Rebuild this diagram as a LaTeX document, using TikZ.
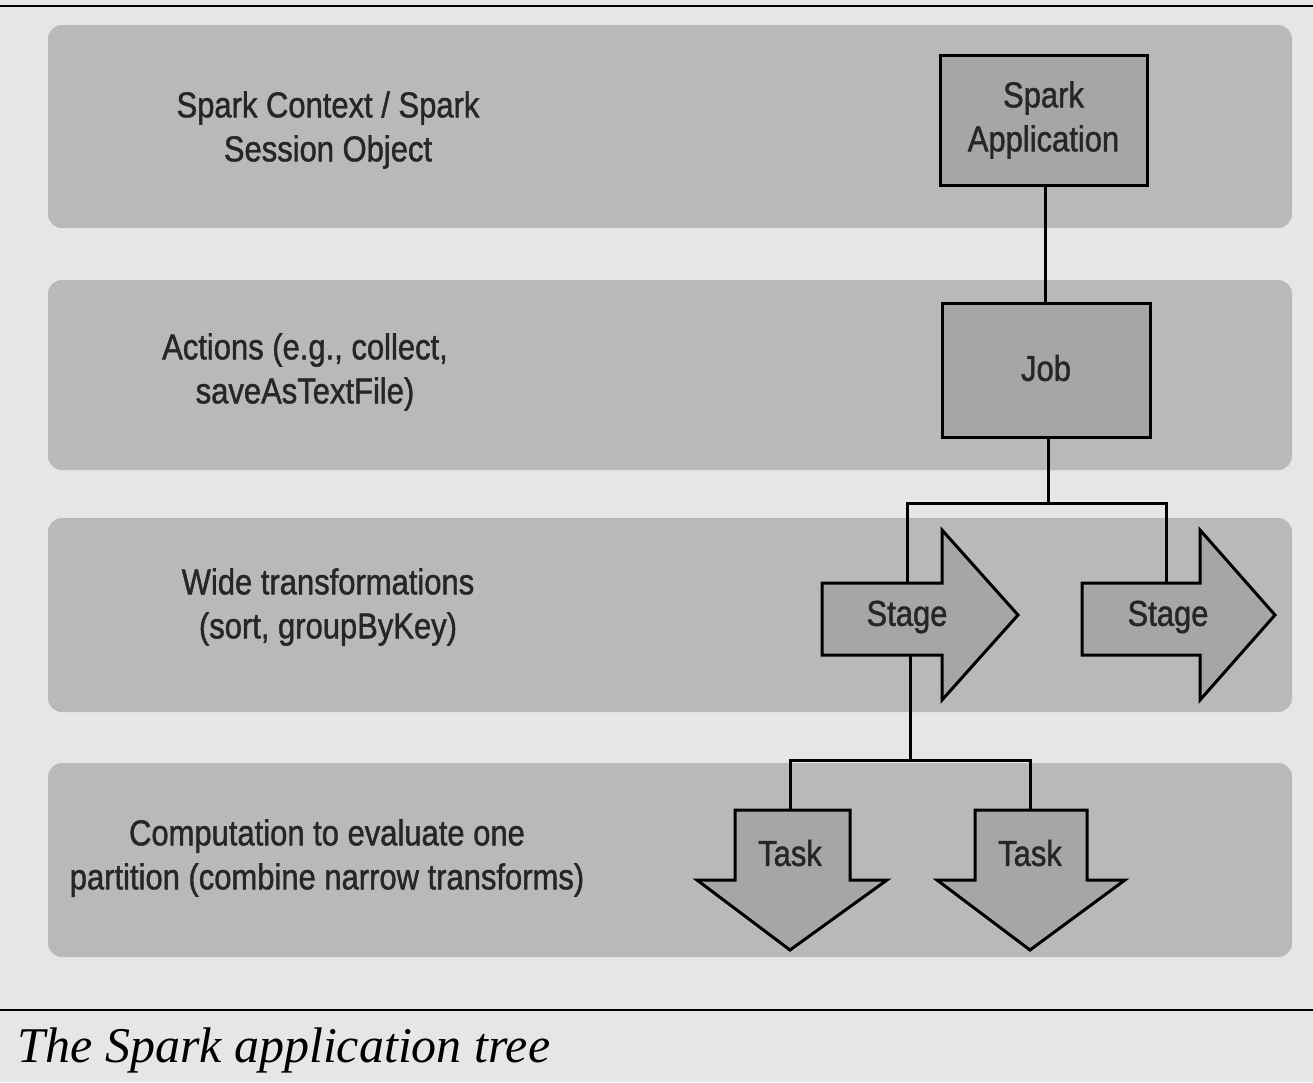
\documentclass[tikz,border=0pt]{standalone}
\usepackage{fontspec}
\setmainfont{Liberation Sans}[FakeStretch=0.86,FakeBold=1.2]
\newfontfamily\capfont{Liberation Serif}
\begin{document}
\begin{tikzpicture}[x=1pt,y=-1pt,
  band/.style={fill=bandc,rounded corners=14pt},
  box/.style={draw=black,line width=3pt,fill=boxc},
  lab/.style={font=\fontsize{36}{44}\selectfont,align=center,text=black!85},
  conn/.style={line width=3pt}]
\definecolor{bandc}{HTML}{B9B9B9}
\definecolor{boxc}{HTML}{A6A6A6}
\definecolor{pagec}{HTML}{E6E6E6}
\fill[pagec] (0,0) rectangle (1313,1082);
\useasboundingbox (0,0) rectangle (1313,1082);
\draw[line width=1.5pt] (0,6) -- (1313,6);
\draw[line width=1.5pt] (0,1010) -- (1313,1010);
\fill[band] (48,25) rectangle (1292,228);
\fill[band] (48,280) rectangle (1292,470);
\fill[band] (48,518) rectangle (1292,712);
\fill[band] (48,763) rectangle (1292,957);
\node[lab] (l1) at (328,130) {Spark Context / Spark\\Session Object};
\node[lab] (l2) at (305,372) {Actions (e.g., collect,\\saveAsTextFile)};
\node[lab] (l3) at (328,607) {Wide transformations\\(sort, groupByKey)};
\node[lab] (l4) at (327,858) {Computation to evaluate one\\partition (combine narrow transforms)};
% boxes
\draw[box] (940,55) rectangle (1147,185);
\node[lab] (app) at (1043.5,120) {Spark\\Application};
\draw[box] (942,303) rectangle (1150,437);
\node[lab] (job) at (1046,368) {Job};
% stage arrows
\draw[box,line join=miter] (822,583) -- (942,583) -- (942,530) -- (1018,615) -- (942,700) -- (942,655) -- (822,655) -- cycle;
\node[lab] (s1) at (907,617) {Stage};
\draw[box,line join=miter] (1082,583) -- (1200,583) -- (1200,530) -- (1275,615) -- (1200,700) -- (1200,655) -- (1082,655) -- cycle;
\node[lab] (s2) at (1168,617) {Stage};
% task arrows
\draw[box,line join=miter] (735,810) -- (850,810) -- (850,880) -- (887,880) -- (790,950) -- (697,880) -- (735,880) -- cycle;
\node[lab] (t1) at (790,853) {Task};
\draw[box,line join=miter] (975,810) -- (1087,810) -- (1087,880) -- (1125,880) -- (1030,950) -- (937,880) -- (975,880) -- cycle;
\node[lab] (t2) at (1030,853) {Task};
% connectors
\coordinate (appb) at (1045,185);
\coordinate (jobt) at (1045,303);
\coordinate (jobb) at (1048,437);
\coordinate (jm) at (1048,503);
\coordinate (s1t) at (907,583);
\coordinate (s2t) at (1166,583);
\coordinate (s1b) at (910,655);
\coordinate (sm) at (910,760);
\coordinate (t1t) at (790,810);
\coordinate (t2t) at (1030,810);
\draw[conn] (appb) -- (jobt);
\draw[conn] (jobb) -- (jm);
\draw[conn] (s1t) |- (jm) -| (s2t);
\draw[conn] (s1b) -- (sm);
\draw[conn] (t1t) |- (sm) -| (t2t);
\node[font=\capfont\itshape\fontsize{50}{56}\selectfont,anchor=west] (cap) at (14,1050) {The Spark application tree};
\end{tikzpicture}
\end{document}
